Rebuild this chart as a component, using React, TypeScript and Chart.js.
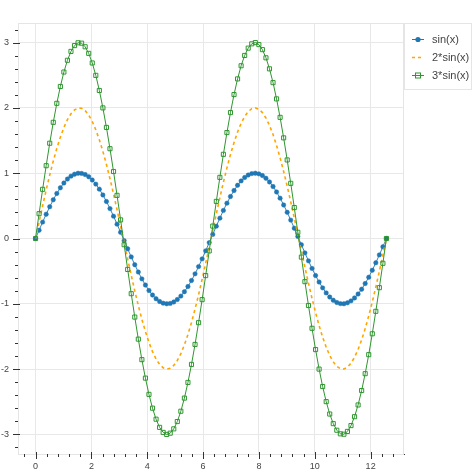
import React, { useEffect, useRef } from 'react';
import { Chart, registerables } from 'chart.js';

Chart.register(...registerables);

// x = 100 samples over 0..4π
const xValues = [
  0, 0.127, 0.254, 0.381, 0.508, 0.635, 0.762, 0.889, 1.015, 1.142,
  1.269, 1.396, 1.523, 1.650, 1.777, 1.904, 2.031, 2.158, 2.285, 2.412,
  2.539, 2.666, 2.793, 2.919, 3.046, 3.173, 3.300, 3.427, 3.554, 3.681,
  3.808, 3.935, 4.062, 4.189, 4.316, 4.443, 4.570, 4.697, 4.823, 4.950,
  5.077, 5.204, 5.331, 5.458, 5.585, 5.712, 5.839, 5.966, 6.093, 6.220,
  6.347, 6.474, 6.601, 6.727, 6.854, 6.981, 7.108, 7.235, 7.362, 7.489,
  7.616, 7.743, 7.870, 7.997, 8.124, 8.251, 8.378, 8.505, 8.631, 8.758,
  8.885, 9.012, 9.139, 9.266, 9.393, 9.520, 9.647, 9.774, 9.901, 10.028,
  10.155, 10.282, 10.409, 10.535, 10.662, 10.789, 10.916, 11.043, 11.170, 11.297,
  11.424, 11.551, 11.678, 11.805, 11.932, 12.059, 12.186, 12.312, 12.439, 12.566,
];

const sinValues = [
  0, 0.127, 0.251, 0.372, 0.486, 0.593, 0.690, 0.776, 0.850, 0.910,
  0.955, 0.985, 0.999, 0.997, 0.979, 0.945, 0.896, 0.833, 0.756, 0.667,
  0.567, 0.458, 0.342, 0.220, 0.095, -0.032, -0.158, -0.282, -0.401, -0.514,
  -0.618, -0.713, -0.796, -0.866, -0.922, -0.964, -0.990, -1.000, -0.994, -0.972,
  -0.934, -0.882, -0.815, -0.735, -0.643, -0.541, -0.430, -0.312, -0.189, -0.063,
  0.063, 0.189, 0.312, 0.430, 0.541, 0.643, 0.735, 0.815, 0.882, 0.934,
  0.972, 0.994, 1.000, 0.990, 0.964, 0.922, 0.866, 0.796, 0.713, 0.618,
  0.514, 0.401, 0.282, 0.158, 0.032, -0.095, -0.220, -0.342, -0.458, -0.567,
  -0.667, -0.756, -0.833, -0.896, -0.945, -0.979, -0.997, -0.999, -0.985, -0.955,
  -0.910, -0.850, -0.776, -0.690, -0.593, -0.486, -0.372, -0.251, -0.127, 0,
];

const sin2Values = [
  0, 0.253, 0.502, 0.743, 0.972, 1.186, 1.380, 1.552, 1.699, 1.819,
  1.910, 1.970, 1.998, 1.994, 1.958, 1.890, 1.792, 1.665, 1.512, 1.334,
  1.134, 0.916, 0.684, 0.441, 0.190, -0.063, -0.316, -0.563, -0.802, -1.027,
  -1.236, -1.425, -1.592, -1.732, -1.845, -1.928, -1.980, -2.000, -1.988, -1.944,
  -1.868, -1.763, -1.630, -1.469, -1.286, -1.081, -0.860, -0.624, -0.379, -0.127,
  0.127, 0.379, 0.624, 0.860, 1.081, 1.286, 1.469, 1.630, 1.763, 1.868,
  1.944, 1.988, 2.000, 1.980, 1.928, 1.845, 1.732, 1.592, 1.425, 1.236,
  1.027, 0.802, 0.563, 0.316, 0.063, -0.190, -0.441, -0.684, -0.916, -1.134,
  -1.334, -1.512, -1.665, -1.792, -1.890, -1.958, -1.994, -1.998, -1.970, -1.910,
  -1.819, -1.699, -1.552, -1.380, -1.186, -0.972, -0.743, -0.502, -0.253, 0,
];

const sin3Values = [
  0, 0.380, 0.753, 1.115, 1.459, 1.779, 2.070, 2.328, 2.549, 2.729,
  2.865, 2.954, 2.997, 2.991, 2.936, 2.835, 2.688, 2.498, 2.267, 2.000,
  1.701, 1.375, 1.026, 0.661, 0.285, -0.095, -0.474, -0.845, -1.203, -1.541,
  -1.855, -2.138, -2.387, -2.598, -2.767, -2.892, -2.969, -3.000, -2.981, -2.915,
  -2.803, -2.645, -2.444, -2.204, -1.928, -1.622, -1.289, -0.936, -0.568, -0.190,
  0.190, 0.568, 0.936, 1.289, 1.622, 1.928, 2.204, 2.444, 2.645, 2.803,
  2.915, 2.981, 3.000, 2.969, 2.892, 2.767, 2.598, 2.387, 2.138, 1.855,
  1.541, 1.203, 0.845, 0.474, 0.095, -0.285, -0.661, -1.026, -1.375, -1.701,
  -2.000, -2.267, -2.498, -2.688, -2.835, -2.936, -2.991, -2.997, -2.954, -2.865,
  -2.729, -2.549, -2.328, -2.070, -1.779, -1.459, -1.115, -0.753, -0.380, 0,
];

const seriesLabels = ['sin(x)', '2*sin(x)', '3*sin(x)'];
const xTickValues = [0, 2, 4, 6, 8, 10, 12];
const yTickValues = [-3, -2, -1, 0, 1, 2, 3];

const BLUE = '#1f77b4';
const ORANGE = '#ffa500';
const GREEN = '#2f962f';
const FONT = "'Liberation Sans', Arial, sans-serif";

const toPoints = (ys: number[]) => xValues.map((x, i) => ({ x, y: ys[i] }));

// axis tick marks (major + minor) and the legend box on the right
const bokehPlugin = {
    id: 'bokehExtras',
    beforeDatasetsDraw(chart: any) {
        const { ctx, chartArea: a } = chart;
        ctx.save();
        ctx.strokeStyle = '#e5e5e5';
        ctx.lineWidth = 1;
        ctx.strokeRect(a.left + 0.5, a.top + 0.5, a.right - a.left - 1, a.bottom - a.top);
        ctx.restore();
    },
    afterDraw(chart: any) {
        const ctx = chart.ctx;
        const xs = chart.scales.x;
        const ys = chart.scales.y;

        const marks = (scale: any, horizontal: boolean, step: number, inner: number, outer: number) => {
            const start = Math.ceil(scale.min / step - 1e-9);
            const end = Math.floor(scale.max / step + 1e-9);
            for (let k = start; k <= end; k++) {
                const p = Math.round(scale.getPixelForValue(k * step)) + 0.5;
                if (horizontal) {
                    ctx.moveTo(p, scale.top - inner);
                    ctx.lineTo(p, scale.top + outer);
                } else {
                    ctx.moveTo(scale.right + inner, p);
                    ctx.lineTo(scale.right - outer, p);
                }
            }
        };

        ctx.save();
        ctx.strokeStyle = '#333';
        ctx.lineWidth = 1;
        ctx.beginPath();
        marks(xs, true, 2, 2, 5);
        marks(xs, true, 0.4, 0, 3);
        marks(ys, false, 1, 2, 5);
        marks(ys, false, 0.2, 0, 3);
        ctx.stroke();

        // legend
        const lx = 404, ly = 23, lw = 68, lh = 67;
        ctx.fillStyle = '#fff';
        ctx.fillRect(lx, ly, lw, lh);
        ctx.strokeStyle = '#e5e5e5';
        ctx.strokeRect(lx + 0.5, ly + 0.5, lw - 1, lh - 1);

        const rows = [39.5, 57.5, 75.5];
        const g0 = 412, g1 = 424, gc = 418;
        ctx.font = `11px ${FONT}`;
        ctx.textBaseline = 'middle';
        ctx.textAlign = 'left';
        seriesLabels.forEach((label, i) => {
            const y = rows[i];
            ctx.save();
            if (i === 0) {
                ctx.strokeStyle = BLUE;
                ctx.lineWidth = 1;
                ctx.beginPath(); ctx.moveTo(g0, y); ctx.lineTo(g1, y); ctx.stroke();
                ctx.fillStyle = BLUE;
                ctx.beginPath(); ctx.arc(gc, y, 2.6, 0, Math.PI * 2); ctx.fill();
            } else if (i === 1) {
                ctx.strokeStyle = ORANGE;
                ctx.lineWidth = 1.6;
                ctx.setLineDash([3, 3]);
                ctx.beginPath(); ctx.moveTo(g0, y); ctx.lineTo(g1, y); ctx.stroke();
            } else {
                ctx.strokeStyle = GREEN;
                ctx.lineWidth = 1;
                ctx.beginPath(); ctx.moveTo(g0, y); ctx.lineTo(g1, y); ctx.stroke();
                ctx.strokeRect(gc - 2.5, y - 2.5, 5, 5);
            }
            ctx.restore();
            ctx.fillStyle = '#444';
            ctx.fillText(label, 432, y);
        });
        ctx.restore();
    },
};

const App = () => {
    const chartRef = useRef<HTMLCanvasElement>(null);
    const chartInstance = useRef<Chart | null>(null);

    useEffect(() => {
        document.body.style.margin = '0';
        if (!chartRef.current) return;
        const ctx = chartRef.current.getContext('2d');
        if (!ctx) return;
        if (chartInstance.current) chartInstance.current.destroy();

        chartInstance.current = new Chart(ctx, {
            type: 'line',
            data: {
                datasets: [
                    {
                        label: seriesLabels[0],
                        data: toPoints(sinValues),
                        borderColor: BLUE,
                        borderWidth: 0.9,
                        pointRadius: 2.2,
                        pointStyle: 'circle',
                        pointBackgroundColor: BLUE,
                        pointBorderColor: BLUE,
                        pointBorderWidth: 0.5,
                        tension: 0,
                        order: 2,
                    },
                    {
                        label: seriesLabels[1],
                        data: toPoints(sin2Values),
                        borderColor: ORANGE,
                        borderWidth: 1.6,
                        borderDash: [3.2, 3.2],
                        pointRadius: 0,
                        tension: 0,
                        order: 1,
                    },
                    {
                        label: seriesLabels[2],
                        data: toPoints(sin3Values),
                        borderColor: GREEN,
                        borderWidth: 1,
                        pointRadius: 2.9,
                        pointStyle: 'rect',
                        pointBackgroundColor: 'rgba(0,0,0,0)',
                        pointBorderColor: GREEN,
                        pointBorderWidth: 1,
                        tension: 0,
                        order: 0,
                    },
                ],
            },
            options: {
                responsive: false,
                animation: false,
                events: [],
                layout: { padding: { top: 23, right: 70, left: 0, bottom: 0 } },
                plugins: {
                    legend: { display: false },
                    tooltip: { enabled: false },
                },
                scales: {
                    x: {
                        type: 'linear',
                        min: -0.628,
                        max: 13.195,
                        afterBuildTicks: (scale: any) => {
                            scale.ticks = xTickValues.map((v) => ({ value: v }));
                        },
                        afterFit: (scale: any) => {
                            scale.height = 20;
                        },
                        ticks: {
                            padding: 7,
                            color: '#444',
                            maxRotation: 0,
                            autoSkip: false,
                            font: { family: FONT, size: 9 },
                        },
                        grid: { color: '#e8e8e8', lineWidth: 1, drawTicks: false },
                        border: { display: true, color: '#333', width: 1 },
                    },
                    y: {
                        type: 'linear',
                        min: -3.3,
                        max: 3.3,
                        afterBuildTicks: (scale: any) => {
                            scale.ticks = yTickValues.map((v) => ({ value: v }));
                        },
                        afterFit: (scale: any) => {
                            scale.width = 18;
                        },
                        ticks: {
                            padding: 9,
                            color: '#444',
                            autoSkip: false,
                            font: { family: FONT, size: 9 },
                        },
                        grid: { color: '#e8e8e8', lineWidth: 1, drawTicks: false },
                        border: { display: true, color: '#333', width: 1 },
                    },
                },
            },
            plugins: [bokehPlugin],
        });

        return () => {
            if (chartInstance.current) {
                chartInstance.current.destroy();
                chartInstance.current = null;
            }
        };
    }, []);

    return (
        <div style={{ position: 'relative', width: 474, height: 474, background: '#fff' }}>
            <canvas ref={chartRef} width={474} height={474} />
        </div>
    );
};

export default App;
